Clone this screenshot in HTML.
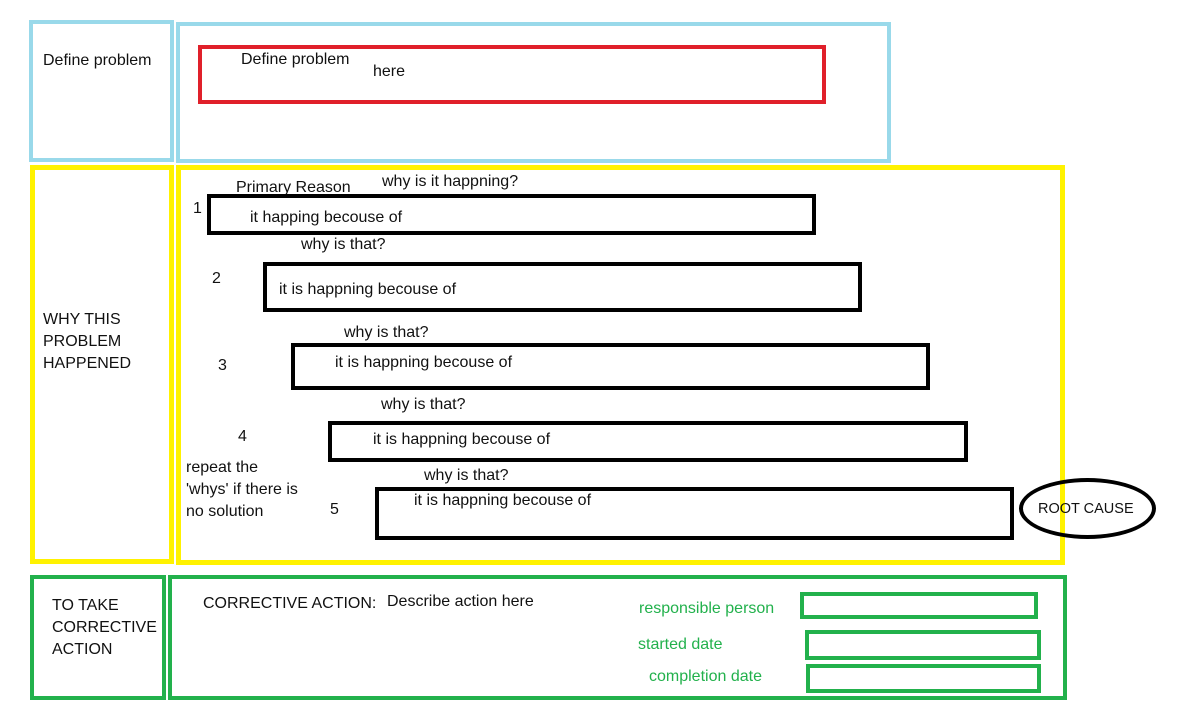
<!DOCTYPE html>
<html><head><meta charset="utf-8"><style>
body{margin:0;width:1186px;height:709px;background:#fff;position:relative;overflow:hidden;font-family:"Liberation Sans",sans-serif;font-size:16px;color:#111}
.b{position:absolute;box-sizing:border-box}
.t{position:absolute;white-space:nowrap;line-height:22px}
.bl{border:4px solid #99d9ea}
.y{border:5px solid #fff200}
.k{border:4px solid #000}
.g{border:4px solid #22b14c}
.gt{color:#22b14c}
</style></head><body>
<div class="b bl" style="left:29px;top:20px;width:145px;height:142px"></div>
<div class="b bl" style="left:176px;top:22px;width:715px;height:141px"></div>
<div class="b" style="left:198px;top:45px;width:628px;height:59px;border:4px solid #e0202a"></div>
<div class="t" style="left:43px;top:50px">Define problem</div>
<div class="t" style="left:241px;top:49px">Define problem</div>
<div class="t" style="left:373px;top:61px">here</div>

<div class="b y" style="left:30px;top:165px;width:144px;height:399px"></div>
<div class="b y" style="left:176px;top:165px;width:889px;height:400px"></div>
<div class="t" style="left:43px;top:309px">WHY THIS<br>PROBLEM<br>HAPPENED</div>
<div class="t" style="left:236px;top:177px">Primary Reason</div>
<div class="t" style="left:382px;top:171px">why is it happning?</div>
<div class="t" style="left:193px;top:198px">1</div>
<div class="b k" style="left:207px;top:194px;width:609px;height:41px"></div>
<div class="t" style="left:250px;top:207px">it happing becouse of</div>
<div class="t" style="left:301px;top:234px">why is that?</div>
<div class="t" style="left:212px;top:268px">2</div>
<div class="b k" style="left:263px;top:262px;width:599px;height:50px"></div>
<div class="t" style="left:279px;top:279px">it is happning becouse of</div>
<div class="t" style="left:344px;top:322px">why is that?</div>
<div class="t" style="left:218px;top:355px">3</div>
<div class="b k" style="left:291px;top:343px;width:639px;height:47px"></div>
<div class="t" style="left:335px;top:352px">it is happning becouse of</div>
<div class="t" style="left:381px;top:394px">why is that?</div>
<div class="t" style="left:238px;top:426px">4</div>
<div class="b k" style="left:328px;top:421px;width:640px;height:41px"></div>
<div class="t" style="left:373px;top:429px">it is happning becouse of</div>
<div class="t" style="left:186px;top:457px">repeat the<br>'whys' if there is<br>no solution</div>
<div class="t" style="left:424px;top:465px">why is that?</div>
<div class="t" style="left:330px;top:499px">5</div>
<div class="b k" style="left:375px;top:487px;width:639px;height:53px"></div>
<div class="t" style="left:414px;top:490px">it is happning becouse of</div>
<div class="b" style="left:1019px;top:478px;width:137px;height:61px;border:4px solid #000;border-radius:50%"></div>
<div class="t" style="left:1038px;top:498px;font-size:14.5px">ROOT CAUSE</div>

<div class="b g" style="left:30px;top:575px;width:136px;height:125px"></div>
<div class="b g" style="left:168px;top:575px;width:899px;height:125px"></div>
<div class="t" style="left:52px;top:595px">TO TAKE<br>CORRECTIVE<br>ACTION</div>
<div class="t" style="left:203px;top:593px">CORRECTIVE ACTION:</div>
<div class="t" style="left:387px;top:591px">Describe action here</div>
<div class="t gt" style="left:639px;top:598px">responsible person</div>
<div class="t gt" style="left:638px;top:634px">started date</div>
<div class="t gt" style="left:649px;top:666px">completion date</div>
<div class="b g" style="left:800px;top:592px;width:238px;height:27px"></div>
<div class="b g" style="left:805px;top:630px;width:236px;height:30px"></div>
<div class="b g" style="left:806px;top:664px;width:235px;height:29px"></div>
</body></html>
